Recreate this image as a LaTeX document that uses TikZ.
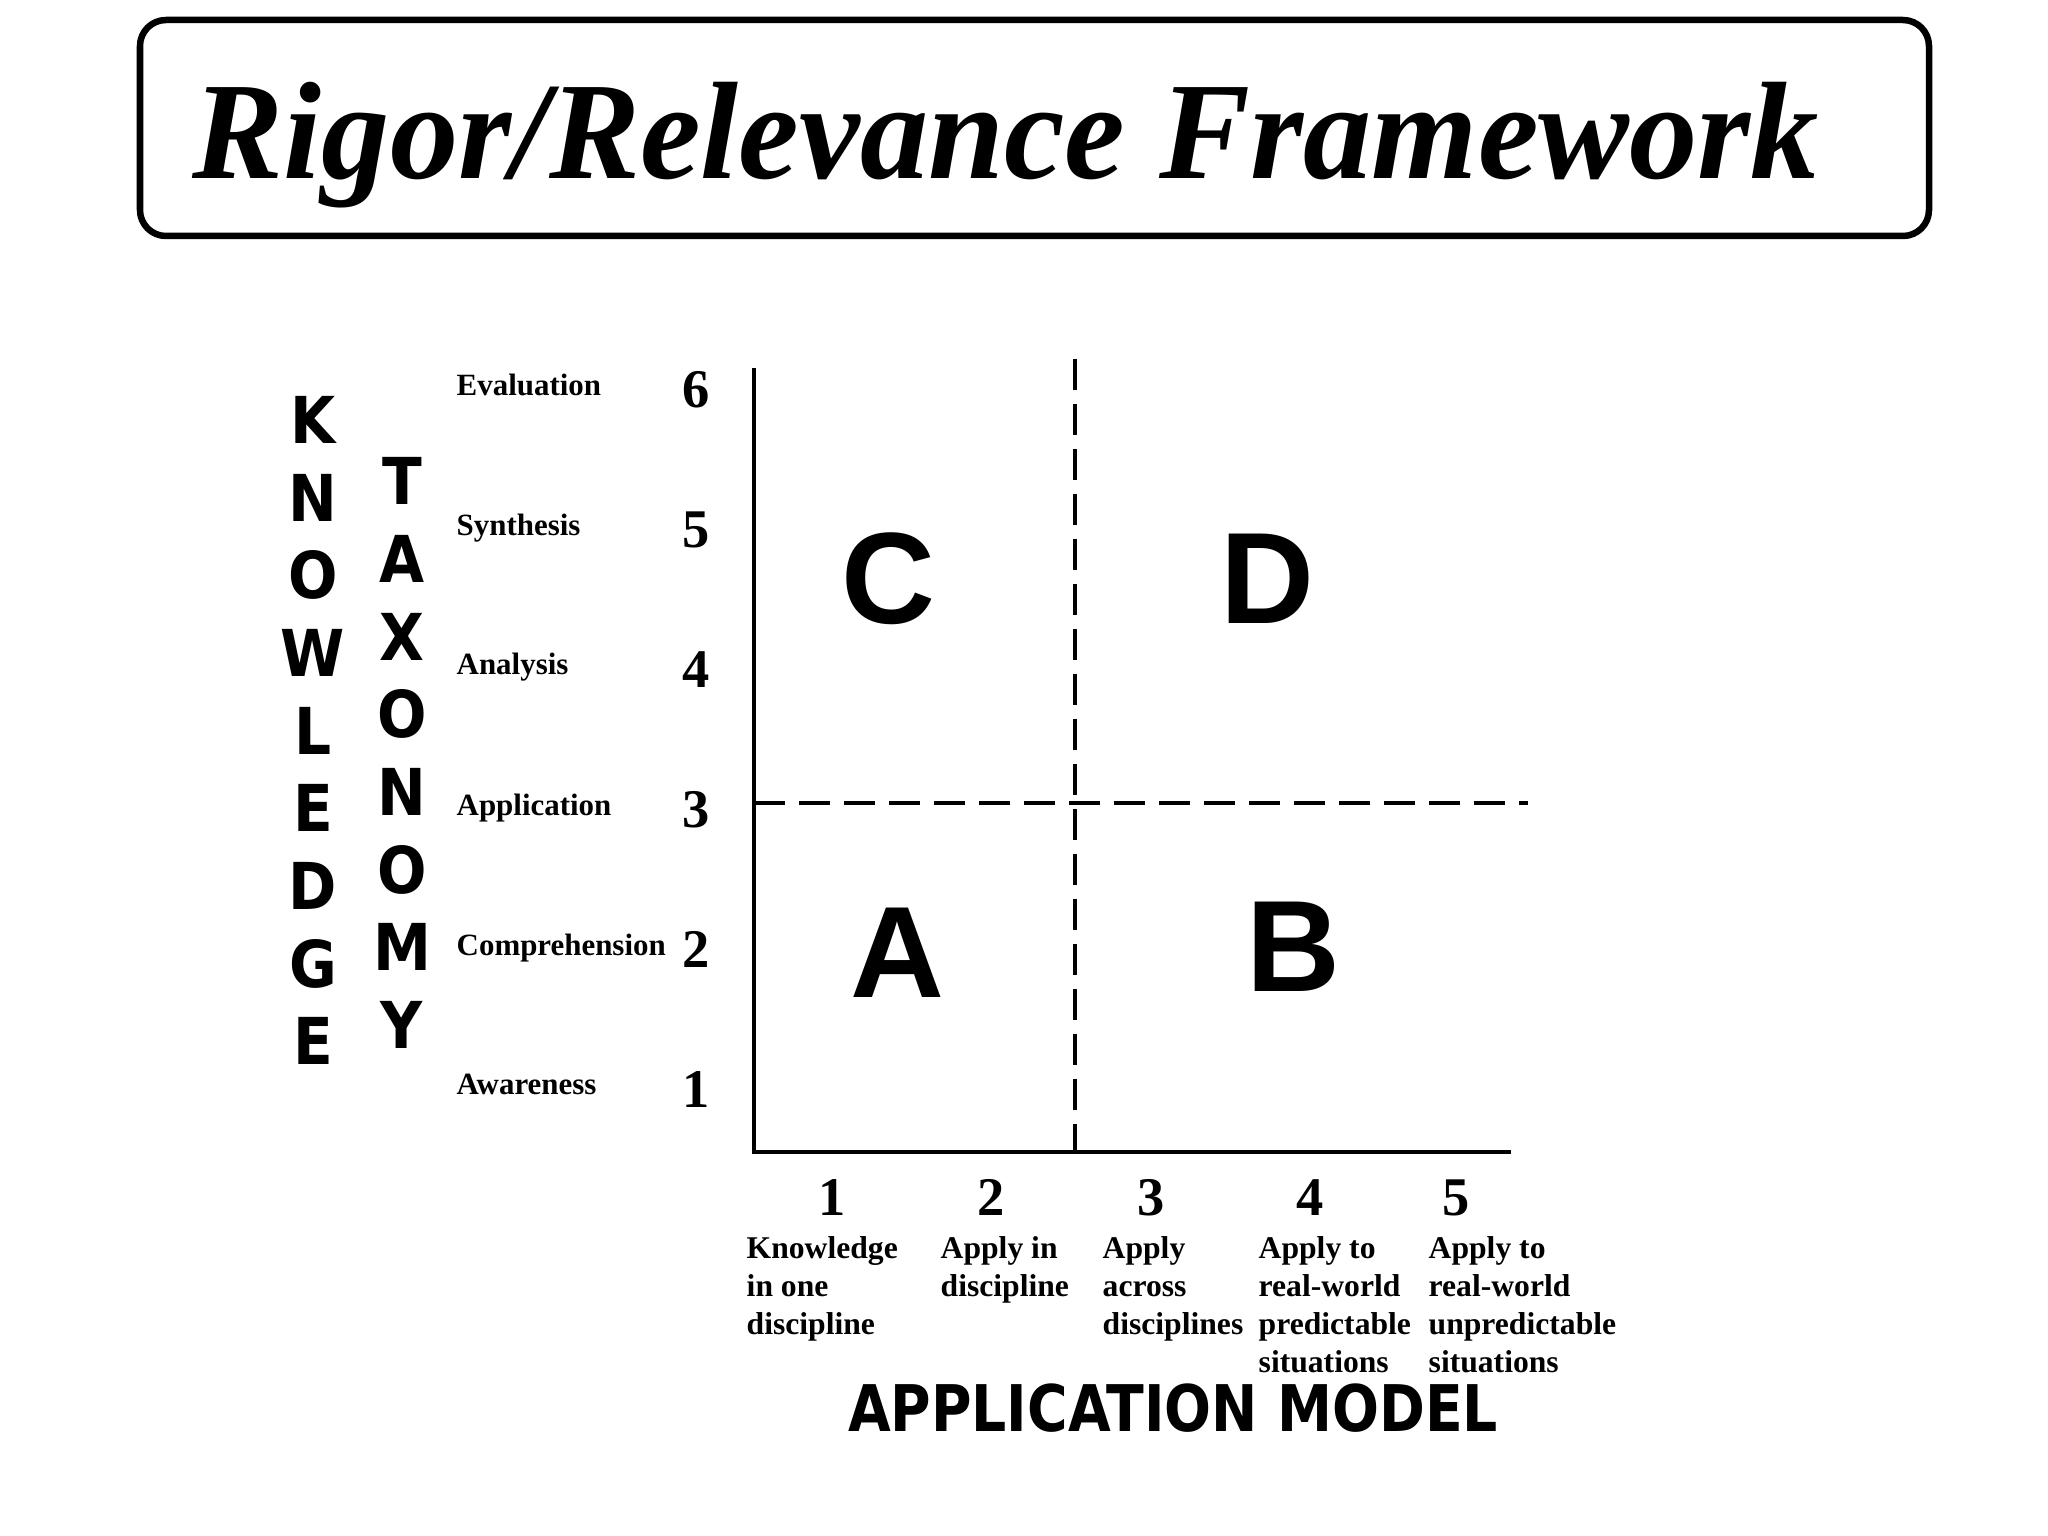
\documentclass[tikz,border=0pt]{standalone}
\usepackage{graphicx}
\usepackage{fontspec}
\setmainfont{Liberation Serif}
\newfontfamily\quadfont{Liberation Sans}
\newfontfamily\axisfont{DejaVu Sans}
\usetikzlibrary{positioning}

\begin{document}
\begin{tikzpicture}[
    every node/.style={inner sep=0pt},
    axis/.style={line width=1.25pt},
    split/.style={line width=1.05pt,dash pattern=on 0.31cm off 0.14cm},
    level/.style={font=\fontsize{8.8}{10}\selectfont\bfseries,anchor=base west},
    num/.style={font=\fontsize{15.5}{18}\selectfont\bfseries,anchor=base},
    desc/.style={font=\fontsize{9}{10.8}\selectfont\bfseries,align=left,anchor=north west},
    quad/.style={font=\quadfont\fontsize{37}{40}\selectfont\bfseries},
    vword/.style={font=\axisfont\fontsize{18.4}{22.1}\selectfont\bfseries,align=center,xscale=0.9,transform shape}]
  \useasboundingbox (0,0) rectangle (20.48,-15.36);

  \node[draw,line width=1.85pt,rounded corners=0.26cm,minimum width=17.89cm,minimum height=2.16cm] (frame) at (10.345,-1.28) {};
  \node[anchor=base] (title) at (10.06,-1.79) {\resizebox{16.26cm}{\height}{\fontsize{39.5}{40}\selectfont\bfseries\itshape Rigor/Relevance Framework}};

  \coordinate (o) at (7.54,-11.52);
  \coordinate (top) at (7.54,-3.68);
  \coordinate (right) at (15.11,-11.52);
  \coordinate (vtop) at (10.75,-3.59);
  \coordinate (vbot) at (10.75,-11.52);
  \coordinate (hl) at (7.54,-8.03);
  \coordinate (hr) at (15.28,-8.03);
  \draw[axis] (top) -- (o) -- (right);
  \draw[split] (vtop) -- (vbot);
  \draw[split] (hl) -- (hr);

  \node[quad] (C) at (8.88,-5.79) {C};
  \node[quad] (D) at (12.67,-5.79) {D};
  \node[quad] (A) at (8.97,-9.53) {A};
  \node[quad] (B) at (12.93,-9.47) {B};

  \node[vword] (know) at (3.13,-7.305) {K\\N\\O\\W\\L\\E\\D\\G\\E};
  \node[vword] (tax) at (4.02,-7.53) {T\\A\\X\\O\\N\\O\\M\\Y};

  \foreach \n/\lvl in {1/Awareness,2/Comprehension,3/Application,4/Analysis,5/Synthesis,6/Evaluation}{
    \node[num] (y\n) at (6.96,{-11.07+(\n-1)*1.40}) {\n};
    \node[level] (l\n) at (4.56,{-10.95+(\n-1)*1.40}) {\lvl};
  }

  \foreach \n/\x in {1/8.32,2/9.91,3/11.51,4/13.10,5/14.56}
    \node[num] (x\n) at (\x,-12.15) {\n};
  \node[desc] (d1) at (7.46,-12.36) {Knowledge\\in one\\discipline};
  \node[desc] (d2) at (9.40,-12.36) {Apply in\\discipline};
  \node[desc] (d3) at (11.02,-12.36) {Apply\\across\\disciplines};
  \node[desc] (d4) at (12.58,-12.36) {Apply to\\real-world\\predictable\\situations};
  \node[desc] (d5) at (14.28,-12.36) {Apply to\\real-world\\unpredictable\\situations};

  \node[anchor=base] (model) at (11.73,-14.31) {\resizebox{6.50cm}{\height}{\axisfont\fontsize{18.3}{20}\selectfont\bfseries APPLICATION MODEL}};
\end{tikzpicture}
\end{document}
